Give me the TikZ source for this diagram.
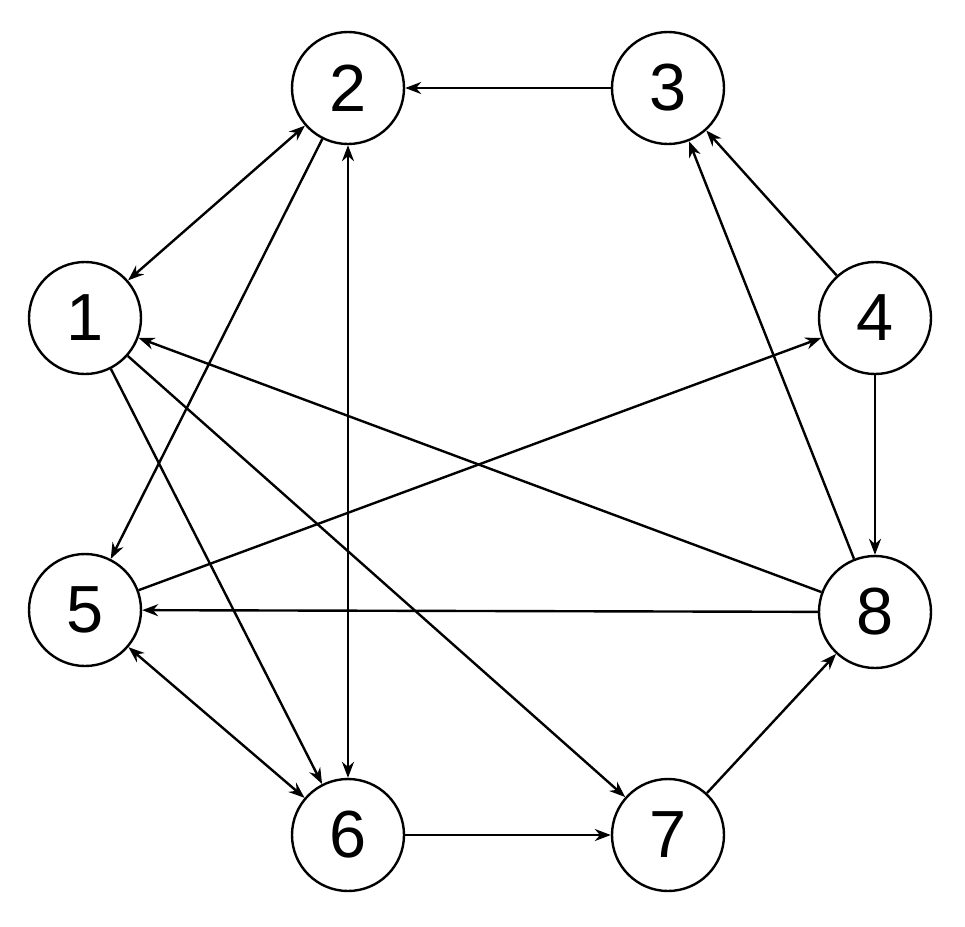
\documentclass[tikz,border=0pt]{standalone}
\usepackage{fontspec}
\setmainfont{Liberation Sans}
\usetikzlibrary{arrows.meta}
\begin{document}
\begin{tikzpicture}[x=0.75pt,y=-0.75pt,
  vert/.style={circle,draw,line width=1.8pt,minimum size=84pt,inner sep=0pt,font=\fontsize{50}{54}\selectfont},
  edge/.style={line width=1.8pt,-{Stealth[length=12pt,width=9pt]}},
  bi/.style={line width=1.8pt,{Stealth[length=12pt,width=9pt]}-{Stealth[length=12pt,width=9pt]}}]
\useasboundingbox (0,0) rectangle (965,926);
\node[vert] (n2) at (348,88) {2};
\node[vert] (n3) at (668,88) {3};
\node[vert] (n1) at (85,318) {1};
\node[vert] (n4) at (875,318) {4};
\node[vert] (n5) at (85,610) {5};
\node[vert] (n8) at (875,612) {8};
\node[vert] (n6) at (348,835) {6};
\node[vert] (n7) at (668,835) {7};
\draw[edge] (n3) -- (n2);
\draw[bi] (n1) -- (n2);
\draw[edge] (n2) -- (n5);
\draw[bi] (n2) -- (n6);
\draw[edge] (n4) -- (n3);
\draw[edge] (n8) -- (n3);
\draw[edge] (n4) -- (n8);
\draw[edge] (n8) -- (n1);
\draw[edge] (n5) -- (n4);
\draw[edge] (n8) -- (n5);
\draw[edge] (n1) -- (n6);
\draw[edge] (n1) -- (n7);
\draw[bi] (n5) -- (n6);
\draw[edge] (n6) -- (n7);
\draw[edge] (n7) -- (n8);
\end{tikzpicture}
\end{document}
